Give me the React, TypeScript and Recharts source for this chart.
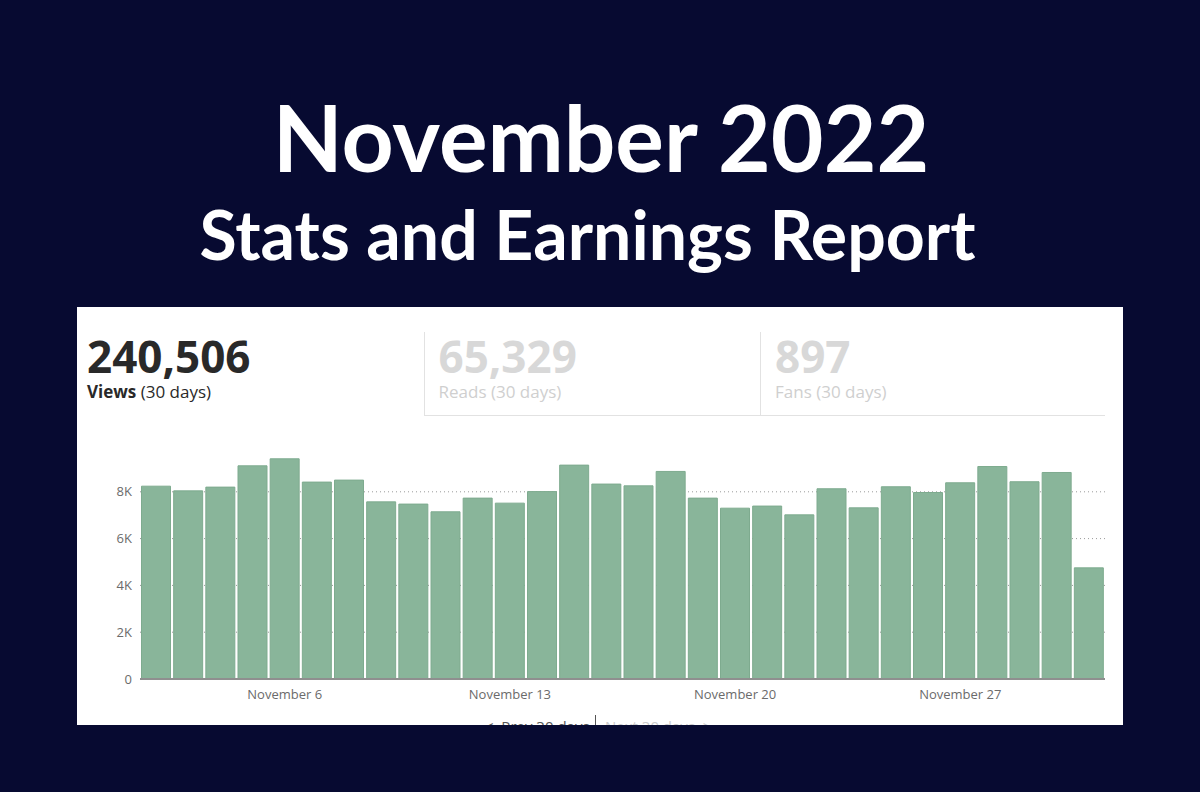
import React from 'react';
import { BarChart, Bar, XAxis, YAxis, CartesianGrid } from 'recharts';

// daily views, one bar per day
const days = [
  'November 2', 'November 3', 'November 4', 'November 5', 'November 6',
  'November 7', 'November 8', 'November 9', 'November 10', 'November 11',
  'November 12', 'November 13', 'November 14', 'November 15', 'November 16',
  'November 17', 'November 18', 'November 19', 'November 20', 'November 21',
  'November 22', 'November 23', 'November 24', 'November 25', 'November 26',
  'November 27', 'November 28', 'November 29', 'November 30', 'December 1',
];
const views = [
  8240, 8040, 8200, 9110, 9410, 8415, 8500, 7570, 7475, 7145,
  7730, 7515, 8010, 9140, 8330, 8255, 8870, 7730, 7300, 7390,
  7015, 8130, 7315, 8215, 7970, 8385, 9080, 8430, 8825, 4750,
];
const xTicks = ['November 6', 'November 13', 'November 20', 'November 27'];
const yTicks = [0, 2000, 4000, 6000, 8000];
const gridValues = [2000, 4000, 6000, 8000];

const totals = [
  { value: '240,506', label: 'Views', active: true },
  { value: '65,329', label: 'Reads', active: false },
  { value: '897', label: 'Fans', active: false },
];

const data = days.map((day, i) => ({ day, views: views[i] }));

const fmtK = (v: number) => (v === 0 ? '0' : `${v / 1000}K`);

const panelFont = '"Open Sans", "Noto Sans", sans-serif';

function StatTab({ value, label, active, left, width }: { value: string; label: string; active: boolean; left: number; width: number }) {
  return (
    <div
      style={{
        position: 'absolute',
        left,
        top: 25,
        width,
        height: 84,
        boxSizing: 'border-box',
        borderLeft: active ? 'none' : '1px solid #e2e2e2',
        borderBottom: active ? 'none' : '1px solid #e2e2e2',
      }}
    >
      <div
        style={{
          position: 'absolute',
          left: active ? 0 : 14,
          top: 2,
          fontSize: 44,
          fontWeight: 700,
          lineHeight: '44px',
          color: active ? '#292929' : '#d8d8d8',
          whiteSpace: 'nowrap',
        }}
      >
        {value}
      </div>
      <div
        style={{
          position: 'absolute',
          left: active ? 0 : 14,
          top: 50,
          fontSize: 17,
          lineHeight: '20px',
          color: active ? '#292929' : '#cfcfcf',
          whiteSpace: 'nowrap',
        }}
      >
        <span style={{ fontWeight: active ? 700 : 400 }}>{label}</span> (30 days)
      </div>
    </div>
  );
}

export default function App() {
  return (
    <div
      style={{
        position: 'absolute',
        left: 0,
        top: 0,
        width: 1200,
        height: 792,
        background: '#070a31',
        overflow: 'hidden',
        fontFamily: panelFont,
      }}
    >
      <div
        style={{
          position: 'absolute',
          left: 0,
          width: 1200,
          top: 91,
          textAlign: 'center',
          paddingLeft: 2,
          boxSizing: 'border-box',
          fontFamily: 'Lato, sans-serif',
          fontWeight: 700,
          fontSize: 91,
          lineHeight: '92px',
          color: '#ffffff',
        }}
      >
        November 2022
      </div>
      <div
        style={{
          position: 'absolute',
          left: 0,
          width: 1200,
          top: 198,
          textAlign: 'center',
          paddingRight: 25,
          boxSizing: 'border-box',
          fontFamily: 'Lato, sans-serif',
          fontWeight: 700,
          fontSize: 68,
          lineHeight: '72px',
          color: '#ffffff',
        }}
      >
        Stats and Earnings Report
      </div>

      <div
        style={{
          position: 'absolute',
          left: 77,
          top: 307,
          width: 1046,
          height: 418,
          background: '#ffffff',
          overflow: 'hidden',
        }}
      >
        {totals.map((t, i) => (
          <StatTab
            key={t.label}
            value={t.value}
            label={t.label}
            active={t.active}
            left={10 + i * 336.5}
            width={i === 2 ? 345 : 337}
          />
        ))}

        <div style={{ position: 'absolute', left: 0, top: 130 }}>
          <BarChart
            width={1046}
            height={272}
            data={data}
            margin={{ top: 8, right: 18, left: 8, bottom: 0 }}
            barCategoryGap={1.5}
          >
            <CartesianGrid
              vertical={false}
              horizontalValues={gridValues}
              stroke="#9a9a9a"
              strokeDasharray="1 3"
            />
            <XAxis
              dataKey="day"
              ticks={xTicks}
              interval={0}
              tickLine={false}
              tickMargin={5}
              axisLine={{ stroke: '#8f8f8f', strokeWidth: 2 }}
              tick={{ fontSize: 13, fill: '#6b6b6b', fontFamily: panelFont }}
              height={30}
            />
            <YAxis
              domain={[0, 10000]}
              ticks={yTicks}
              tickFormatter={fmtK}
              axisLine={false}
              tickLine={false}
              width={55}
              tick={{ fontSize: 13, fill: '#6b6b6b', fontFamily: panelFont }}
            />
            <Bar dataKey="views" fill="#89b59a" stroke="#7eab8f" strokeWidth={1} isAnimationActive={false} />
          </BarChart>
        </div>

        <div
          style={{
            position: 'absolute',
            left: 408,
            top: 409,
            fontSize: 15,
            lineHeight: '20px',
            color: '#555',
            whiteSpace: 'nowrap',
          }}
        >
          &lt;&nbsp;&nbsp;Prev 30 days
        </div>
        <div style={{ position: 'absolute', left: 518, top: 408, width: 1, height: 12, background: '#555' }} />
        <div
          style={{
            position: 'absolute',
            left: 528,
            top: 409,
            fontSize: 15,
            lineHeight: '20px',
            color: '#cccccc',
            whiteSpace: 'nowrap',
          }}
        >
          Next 30 days&nbsp;&nbsp;&gt;
        </div>
      </div>
    </div>
  );
}
